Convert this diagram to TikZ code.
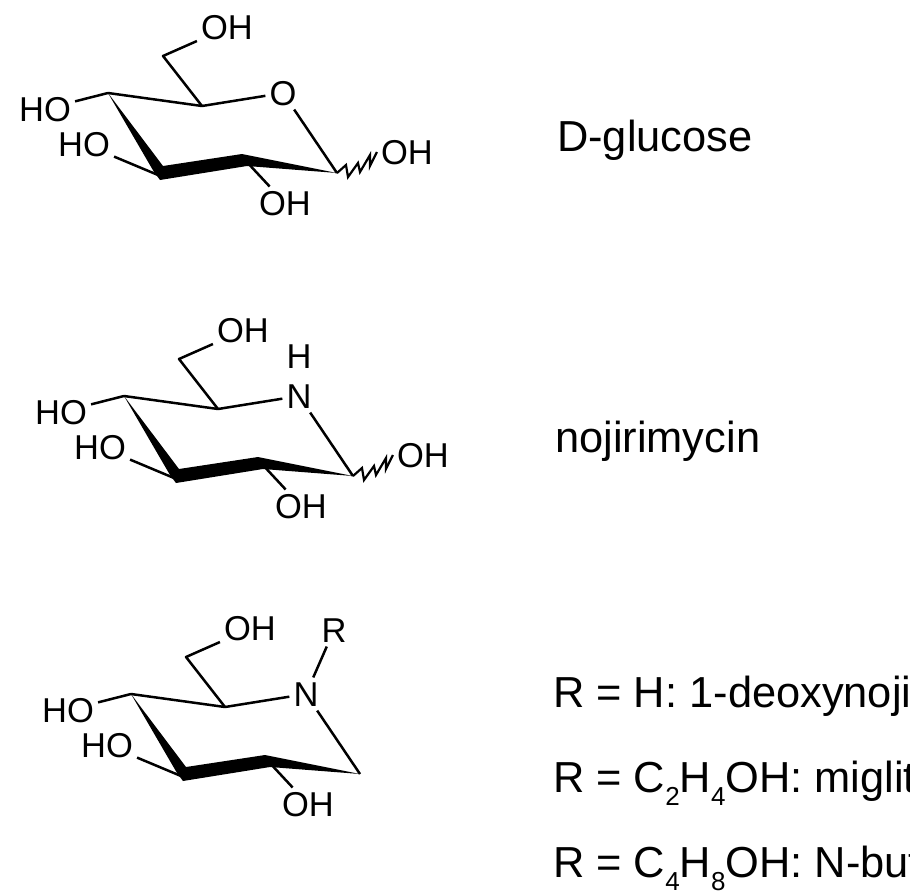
\documentclass[tikz,border=0pt]{standalone}
\usepackage{fontspec}
\setmainfont{Liberation Sans}
\def\lowsub#1{\raisebox{-13pt}{\fontsize{26}{26}\selectfont #1}}
\tikzset{
	atom/.style={inner sep=4pt, font=\fontsize{34.5}{36}\selectfont, text height=24.7pt, text depth=0pt},
	bond/.style={line width=2.5pt, line join=round},
	wavybond/.style={line width=2.2pt, line join=miter},
	molname/.style={anchor=base west, inner sep=0pt, font=\fontsize{43.4}{48}\selectfont}
}
% half-chair ring, #1 = ring hetero atom
\def\halfchair#1{
	\coordinate (c6) at (163, 56);
	\coordinate (c5) at (202, 106);
	\coordinate (c4) at (108, 93);
	\coordinate (c3) at (158, 175);
	\coordinate (c2) at (245, 160);
	\coordinate (c1) at (337, 173);
	\node[atom] (x1) at (283, 93) {#1};
	\node[atom] (oh6) at (227, 27) {OH};
	\node[atom] (oh4) at (45, 109) {HO};
	\node[atom] (oh3) at (84, 144) {HO};
	\node[atom] (oh2) at (285, 203) {OH};
	\draw[bond] (c4) -- (c5);
	\draw[bond] (c5) -- (c6) -- (oh6.205);
	\draw[bond] (c5) -- (x1);
	\draw[bond] (x1) -- (c1);
	\draw[bond] (c4) -- (oh4);
	\draw[bond] (oh3) -- (c3);
	\draw[bond] (c2) -- (oh2);
	\fill[black] (c4) -- (163, 166) -- (242, 154) -- (c1) -- (247, 166) -- (160, 180) -- (154, 172) -- cycle;
}
\def\anomerOH{
	\node[atom] (oh1) at (407, 152) {OH};
	\draw[wavybond] (c1) -- ++(9, -8) -- ++(2, 12) -- ++(10, -14) -- ++(2, 9) -- ++(10, -17) -- ++(0, 11) -- (oh1.west);
}

\begin{document}
\begin{tikzpicture}[x=1pt, y=-1pt]
		%%%%% START %%%%%
		\clip (0, 0) rectangle (910, 894);
		
		\begin{scope}[name prefix=g-]
			\halfchair{O}
			\anomerOH
		\end{scope}
		\node[molname] (glucose) at (557, 151) {D-glucose};
		
		\begin{scope}[shift={(16, 303)}, name prefix=n-]
			\halfchair{N}
			\anomerOH
			\node[atom] (h) at (283, 53) {H};
		\end{scope}
		\node[molname] (nojirimycin) at (555, 452) {nojirimycin};
		
		\begin{scope}[shift={(23, 601)}, name prefix=d-]
			\halfchair{N}
			\node[atom] (r) at (311, 29) {R};
			\draw[bond] (x1) -- (r);
		\end{scope}
		\node[molname] (dnj) at (553, 707) {R = H: 1-deoxynojir};
		\node[molname] (miglitol) at (553, 792) {R = C\lowsub{2}H\lowsub{4}OH: miglit};
		\node[molname] (butyl) at (553, 877) {R = C\lowsub{4}H\lowsub{8}OH: N-but};
		
		%%%%% END %%%%%
	\end{tikzpicture}
\end{document}
